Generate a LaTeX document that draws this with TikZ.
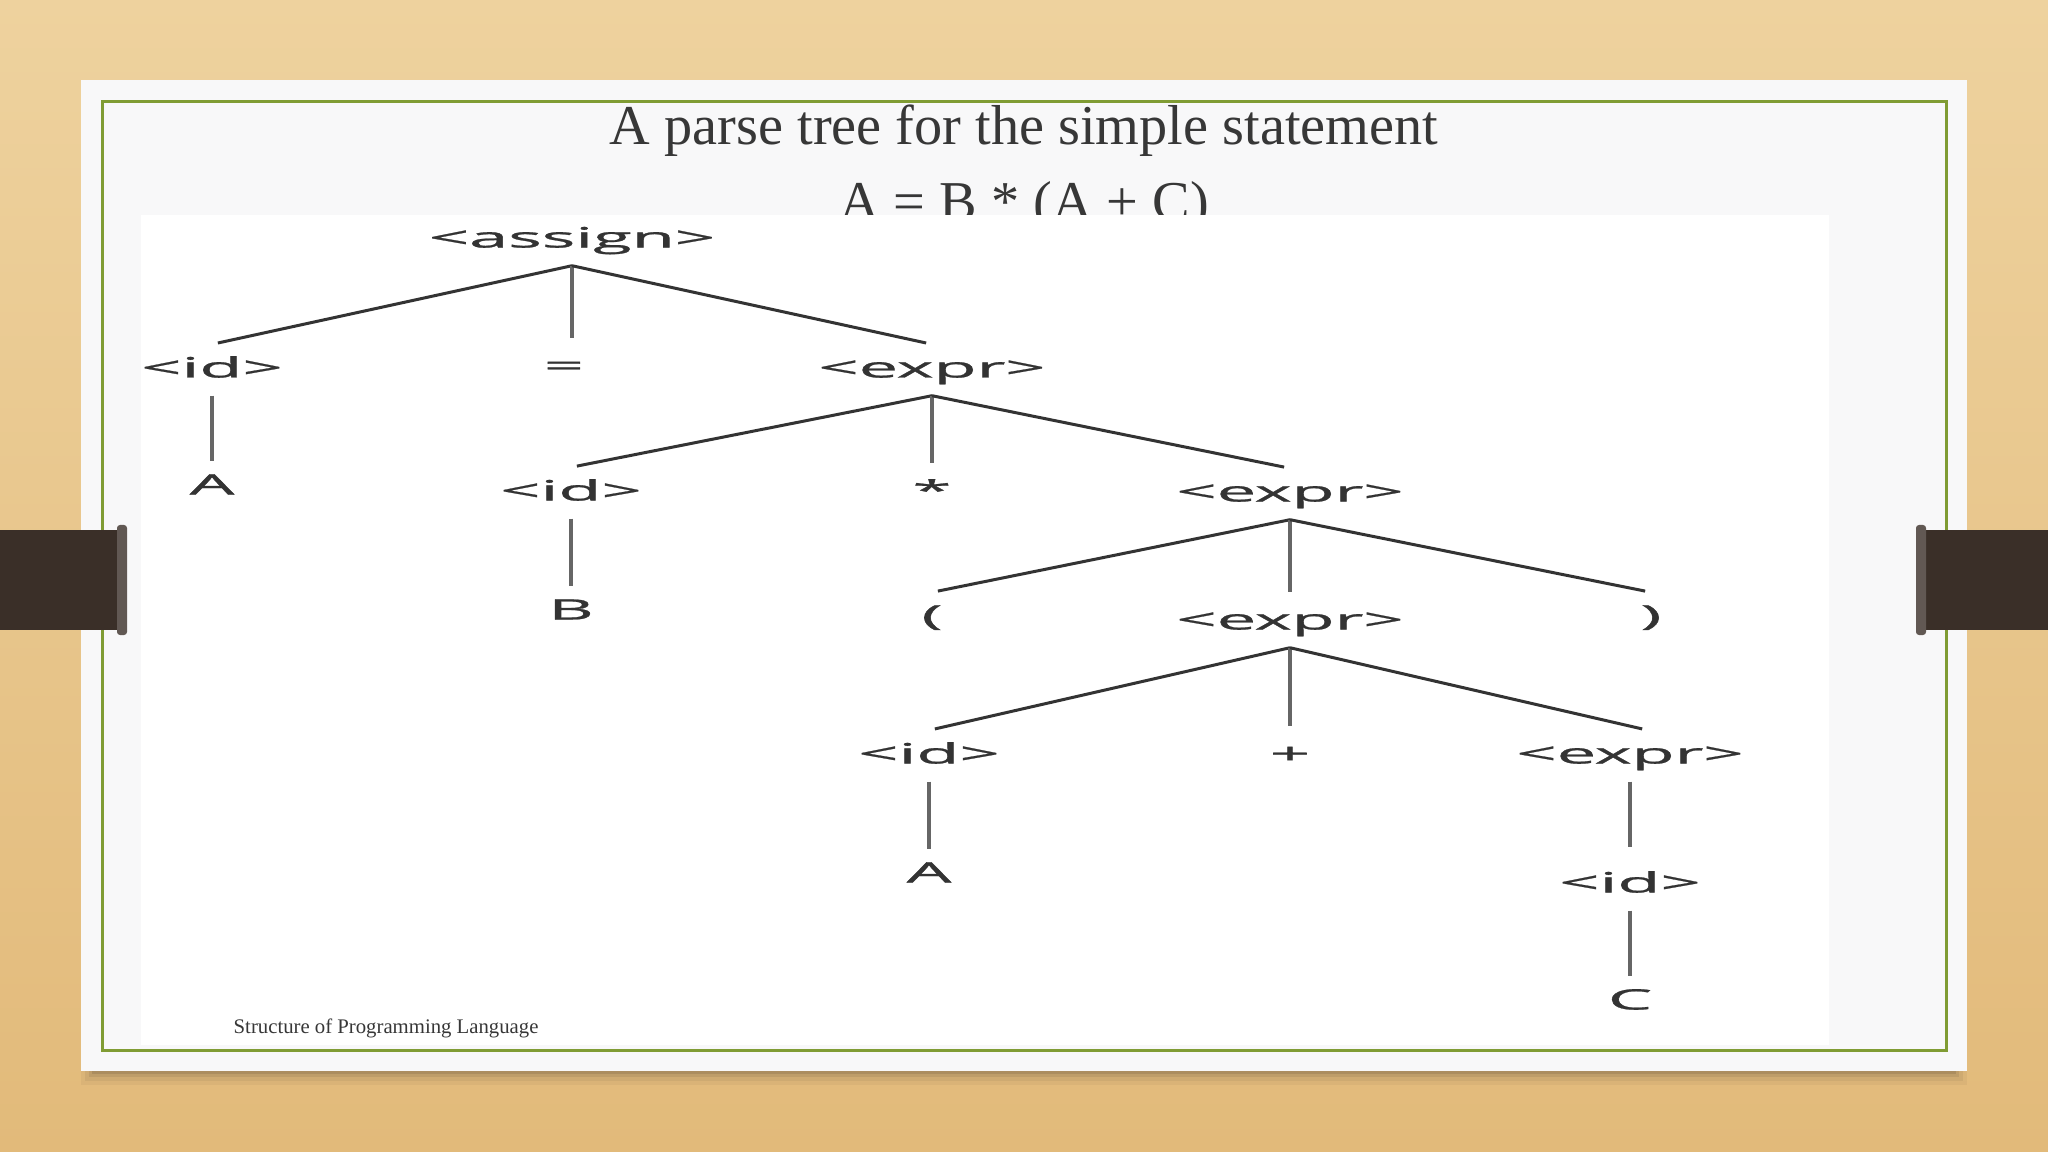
\documentclass[tikz,border=0pt]{standalone}
\usepackage{fontspec}
\setmainfont{Liberation Serif}
\newfontfamily\treefont[FakeBold=0.8]{Open Sans}

\newcommand\tlabel[1]{\scalebox{2.5}[1]{#1}}	% stretched tree labels

\definecolor{woodlight}{RGB}{238,210,158}
\definecolor{wooddark}{RGB}{226,186,122}
\definecolor{tabbrown}{RGB}{58,47,40}
\definecolor{framegreen}{RGB}{128,156,52}
\definecolor{inkgrey}{RGB}{55,55,55}
\definecolor{cardgrey}{RGB}{248,248,249}

\begin{document}
\begin{tikzpicture}[x = 0.01cm, y = -0.01cm,
	sym/.style = {font = \treefont\fontsize{8}{8}\selectfont, text = black!80, inner sep = 0, minimum height = 0.5cm, text height = 0.2cm, text depth = 0.05cm},
	branch/.style = {line width = 0.03cm, black!80, shorten > = 0.06cm},
	stem/.style = {line width = 0.045cm, black!60}]

	\useasboundingbox (0, 0) rectangle (2048, 1152);

	% Draw background
	
	\shade [top color = woodlight, bottom color = wooddark] (0, 0) rectangle (2048, 1152);
	
	\foreach \d/\o in {14/0.05, 10/0.07, 6/0.1, 3/0.14}
		\fill [tabbrown, opacity = \o] ({81 + 14 - \d}, {1071 - 10}) rectangle ({1967 - 14 + \d}, {1071 + \d});
	
	\fill [cardgrey] (81, 80) rectangle (1967, 1071);
	\draw [framegreen, line width = 0.03cm] (102, 102) rectangle (1946, 1050);
	
	% Draw side tabs
	
	\fill [tabbrown] (0, 530) rectangle (123, 630);
	\fill [tabbrown!80, rounded corners = 0.03cm] (117, 525) rectangle (127, 635);
	\fill [tabbrown] (1920, 530) rectangle (2048, 630);
	\fill [tabbrown!80, rounded corners = 0.03cm] (1916, 525) rectangle (1926, 635);
	
	% Draw title
	
	\node [font = \fontsize{16}{16}\selectfont, text = inkgrey, anchor = base] (title) at (1024, 145) {A parse tree for the simple statement};
	\node [font = \fontsize{16}{16}\selectfont, text = inkgrey, anchor = base] (stmt) at (1024, 221) {A = B * (A + C)};
	
	% Tree picture area
	
	\fill [white] (141, 215) rectangle (1829, 1045);
	
	% Draw tree nodes
	
	\node [sym] (assign) at (572, 240) {\tlabel{<assign>}};
	
	\node [sym] (id1) at (212, 370) {\tlabel{<id>}};
	\node [sym] (eq) at (564, 368) {\tlabel{=}};
	\node [sym] (ex1) at (932, 370) {\tlabel{<expr>}};
	\node [sym] (a1) at (212, 487) {\tlabel{A}};
	
	\node [sym] (id2) at (571, 493) {\tlabel{<id>}};
	\node [sym] (star) at (932, 493) {\tlabel{*}};
	\node [sym] (ex2) at (1290, 494) {\tlabel{<expr>}};
	\node [sym] (b) at (571, 612) {\tlabel{B}};
	
	\node [sym] (lp) at (932, 618) {\tlabel{(}};
	\node [sym] (ex3) at (1290, 622) {\tlabel{<expr>}};
	\node [sym] (rp) at (1651, 618) {\tlabel{)}};
	
	\node [sym] (id3) at (929, 756) {\tlabel{<id>}};
	\node [sym] (plus) at (1290, 756) {\tlabel{+}};
	\node [sym] (ex4) at (1630, 756) {\tlabel{<expr>}};
	\node [sym] (a2) at (929, 875) {\tlabel{A}};
	\node [sym] (id4) at (1630, 885) {\tlabel{<id>}};
	\node [sym] (c) at (1630, 1002) {\tlabel{C}};
	
	% Draw tree edges
	
	\foreach \p/\l/\m/\r in {assign/id1/eq/ex1, ex1/id2/star/ex2, ex2/lp/ex3/rp}
	{
		\draw [branch] (\p.south) -- (\l.north);
		\draw [stem, shorten > = 0.04cm] (\p.south) -- (\p.south |- \m.north);
		\draw [branch] (\p.south) -- (\r.north);
	}
	
	\draw [branch] (ex3.south) -- (id3.north);
	\draw [stem, shorten > = 0.04cm] (ex3.south) -- (plus.north);
	\draw [branch] (ex3.south) -- ([xshift = 0.18cm] ex4.north);
	
	\foreach \u/\v in {id1/a1, id2/b, id3/a2, id4/c}
		\draw [stem] (\u.south) -- (\v.north);
	\draw [stem, shorten > = 0.12cm] (ex4.south) -- (id4.north);
	
	% Draw footer
	
	\node [font = \fontsize{5.9}{6}\selectfont, text = inkgrey, inner sep = 0, anchor = base west] (footer) at (233, 1033) {Structure of Programming Language};
	
\end{tikzpicture}
\end{document}
